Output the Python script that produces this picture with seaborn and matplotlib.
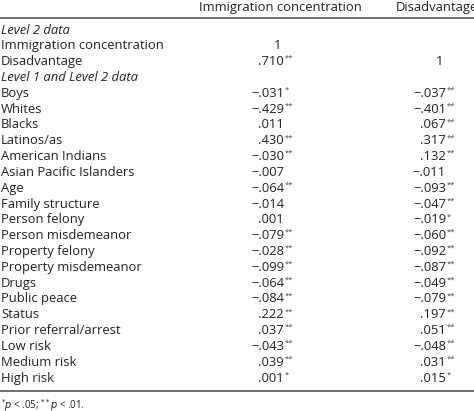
import matplotlib
matplotlib.use("Agg")
import matplotlib.pyplot as plt
import seaborn as sns

sns.set_theme(style="white")
plt.rcParams['font.family'] = ['Open Sans', 'DejaVu Sans']

columns = ["Immigration concentration", "Disadvantage"]
labels = ["Level 2 data", "Immigration concentration", "Disadvantage",
          "Level 1 and Level 2 data", "Boys", "Whites", "Blacks", "Latinos/as",
          "American Indians", "Asian Pacific Islanders", "Age", "Family structure",
          "Person felony", "Person misdemeanor", "Property felony",
          "Property misdemeanor", "Drugs", "Public peace", "Status",
          "Prior referral/arrest", "Low risk", "Medium risk", "High risk"]
italic_rows = {"Level 2 data", "Level 1 and Level 2 data"}
col1 = ["", "1", ".710**", "", "−.031*", "−.429**", ".011", ".430**", "−.030**",
        "−.007", "−.064**", "−.014", ".001", "−.079**", "−.028**", "−.099**",
        "−.064**", "−.084**", ".222**", ".037**", "−.043**", ".039**", ".001*"]
col2 = ["", "", "1", "", "−.037**", "−.401**", ".067**", ".317**", ".132**",
        "−.011", "−.093**", "−.047**", "−.019*", "−.060**", "−.092**", "−.087**",
        "−.049**", "−.079**", ".197**", ".051**", "−.048**", ".031**", ".015*"]
footnote = r"$^{*}\it{p}$ < .05; $^{**}\it{p}$ < .01."

fig = plt.figure(figsize=(4.74, 4.11), dpi=100)
ax = fig.add_axes([0, 0, 1, 1])
ax.set_xlim(0, 474)
ax.set_ylim(411, 0)
ax.axis("off")

fs = 9.4
ax.text(280, 7, columns[0], ha="center", va="center", fontsize=fs, color="#222")
ax.text(437, 7, columns[1], ha="center", va="center", fontsize=fs, color="#222")
ax.plot([0, 474], [18, 18], color="#555", lw=1.2)

y0, dy = 30, 15.82
def put(x, s, y):
    if not s:
        return
    num = s.rstrip("*")
    stars = s[len(num):]
    if num == "1":
        ax.text(x - 6, y, num, ha="center", va="center", fontsize=fs, color="#222")
        return
    ax.text(x, y, num, ha="right", va="center", fontsize=fs, color="#222")
    if stars:
        ax.text(x + 0.5, y - 3, stars, ha="left", va="center", fontsize=5.5, color="#444")

for i, lab in enumerate(labels):
    y = y0 + i * dy
    ax.text(1, y, lab, ha="left", va="center", fontsize=fs, color="#222",
            style="italic" if lab in italic_rows else "normal")
    put(284, col1[i], y)
    put(446, col2[i], y)

ax.plot([0, 474], [391, 391], color="#555", lw=1.2)
ax.text(1, 405, footnote, ha="left", va="center", fontsize=7, color="#222")

fig.savefig("out.png", dpi=100)
